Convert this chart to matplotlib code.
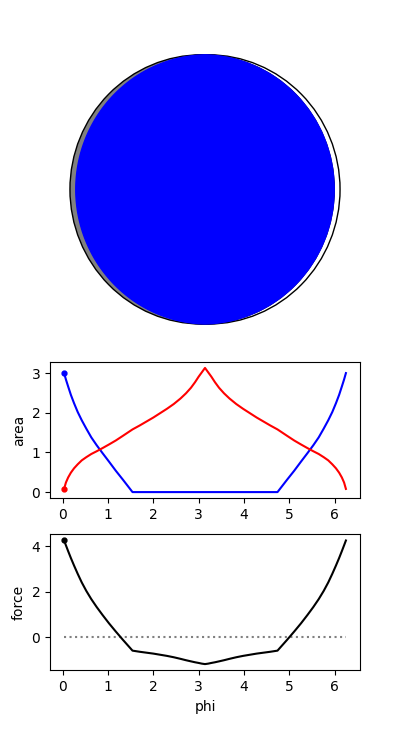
import numpy as np
import matplotlib
matplotlib.use("Agg")
import matplotlib.pyplot as plt
from matplotlib.patches import Circle, Polygon

# ---- snapshot geometry (two unit circles, slightly offset) ----
radius = 1.0
offset = 0.022          # half the distance between the two centres

# ---- curves ----
phi = [0.03, 0.07, 0.12, 0.18, 0.25, 0.33, 0.42, 0.52, 0.63, 0.75, 0.88, 1.02,
       1.17, 1.33, 1.54, 1.70, 1.85, 2.00, 2.15, 2.30, 2.45, 2.60, 2.72, 2.83,
       2.92, 3.00, 3.07, 3.14,
       3.21, 3.28, 3.36, 3.45, 3.56, 3.68, 3.83, 3.98, 4.13, 4.28, 4.43, 4.58,
       4.74, 4.95, 5.11, 5.26, 5.40, 5.53, 5.65, 5.76, 5.86, 5.95, 6.03, 6.10,
       6.16, 6.21, 6.25]

area_blue = [3.00, 2.84, 2.66, 2.45, 2.24, 2.02, 1.81, 1.60, 1.38, 1.18, 0.98, 0.77,
             0.54, 0.31, 0.00, 0.00, 0.00, 0.00, 0.00, 0.00, 0.00, 0.00, 0.00, 0.00,
             0.00, 0.00, 0.00, 0.00,
             0.00, 0.00, 0.00, 0.00, 0.00, 0.00, 0.00, 0.00, 0.00, 0.00, 0.00, 0.00,
             0.00, 0.31, 0.54, 0.77, 0.98, 1.18, 1.38, 1.60, 1.81, 2.02, 2.24, 2.45,
             2.66, 2.84, 3.00]

area_red = [0.08, 0.24, 0.37, 0.49, 0.60, 0.70, 0.80, 0.88, 0.96, 1.03, 1.11, 1.20,
            1.30, 1.42, 1.58, 1.68, 1.78, 1.88, 1.99, 2.10, 2.22, 2.36, 2.49, 2.63,
            2.77, 2.91, 3.02, 3.13,
            3.02, 2.91, 2.77, 2.63, 2.49, 2.36, 2.22, 2.10, 1.99, 1.88, 1.78, 1.68,
            1.58, 1.42, 1.30, 1.20, 1.11, 1.03, 0.96, 0.88, 0.80, 0.70, 0.60, 0.49,
            0.37, 0.24, 0.08]

force = [4.25, 4.04, 3.78, 3.48, 3.15, 2.79, 2.41, 2.04, 1.68, 1.33, 0.98, 0.62,
         0.26, -0.11, -0.58, -0.63, -0.67, -0.71, -0.76, -0.81, -0.87, -0.94, -1.00, -1.05,
         -1.09, -1.12, -1.15, -1.17,
         -1.15, -1.12, -1.09, -1.05, -1.00, -0.94, -0.87, -0.81, -0.76, -0.71, -0.67, -0.63,
         -0.58, -0.11, 0.26, 0.62, 0.98, 1.33, 1.68, 2.04, 2.41, 2.79, 3.15, 3.48,
         3.78, 4.04, 4.25]


def lens_polygon(r, d, n=200):
    """Intersection of circles centred at (-d, 0) and (d, 0)."""
    a = np.arctan2(np.sqrt(r**2 - d**2), d)
    t1 = np.linspace(-a, a, n)                   # right arc, circle at -d
    t2 = np.linspace(np.pi - a, np.pi + a, n)    # left arc, circle at +d
    right = np.c_[-d + r * np.cos(t1), r * np.sin(t1)]
    left = np.c_[d + r * np.cos(t2), r * np.sin(t2)]
    return np.vstack([right, left])


fig = plt.figure(figsize=(4, 7.5), dpi=100)

# top: snapshot
ax0 = fig.add_axes([0.125, 0.5408, 0.775, 0.4133])
ax0.add_patch(Circle((offset, 0), radius, facecolor="none", edgecolor="k", lw=1.0))
ax0.add_patch(Circle((-offset, 0), radius, facecolor="gray", edgecolor="k", lw=1.0))
ax0.add_patch(Polygon(lens_polygon(radius, offset), closed=True,
                      facecolor="blue", edgecolor="blue", lw=1.0))
ax0.set_xlim(-1.173, 1.173)
ax0.set_ylim(-1.151, 1.151)
ax0.axis("off")

# middle: areas
ax1 = fig.add_axes([0.125, 0.3356, 0.775, 0.1821])
ax1.plot(phi, area_blue, color="blue")
ax1.plot(phi, area_red, color="red")
ax1.plot(phi[0], area_blue[0], "o", color="blue", ms=3.5)
ax1.plot(phi[0], area_red[0], "o", color="red", ms=3.5)
ax1.set_ylabel("area")

# bottom: force
ax2 = fig.add_axes([0.125, 0.1063, 0.775, 0.1813])
ax2.plot([phi[0], phi[-1]], [0, 0], ":", color="gray")
ax2.plot(phi, force, color="k")
ax2.plot(phi[0], force[0], "o", color="k", ms=3.5)
ax2.set_ylabel("force")
ax2.set_xlabel("phi")

fig.savefig("out.png", dpi=100)
